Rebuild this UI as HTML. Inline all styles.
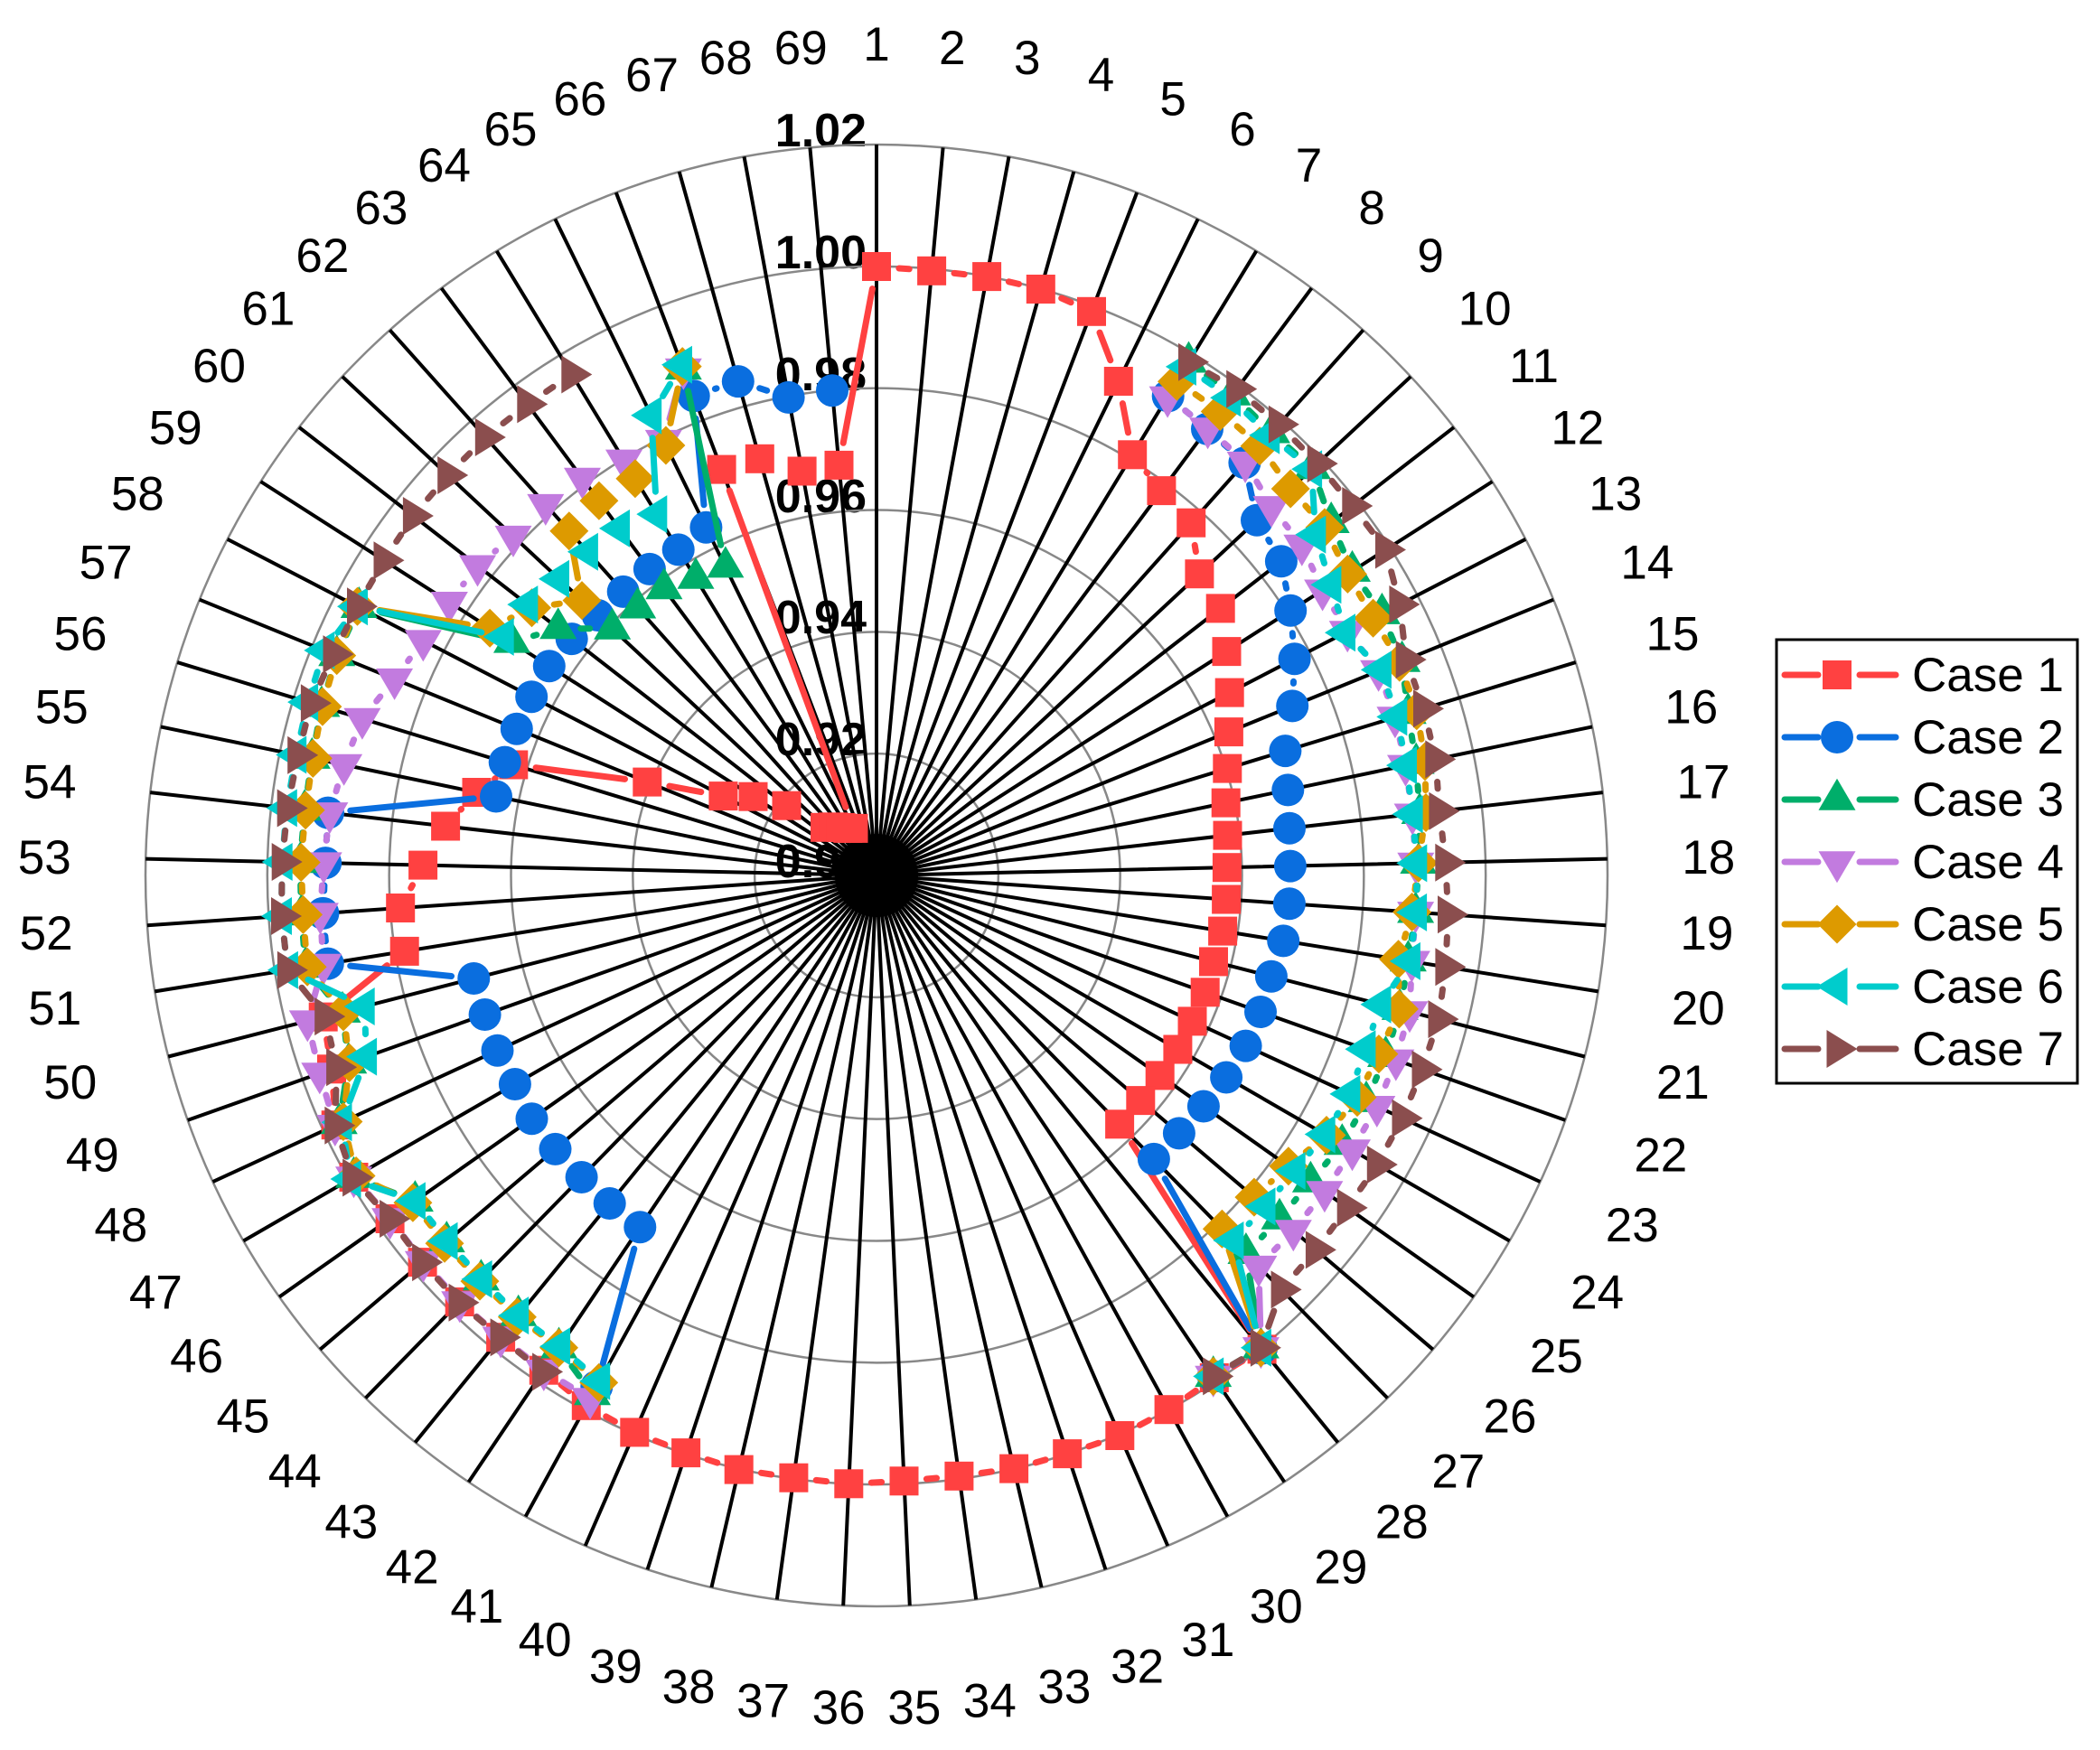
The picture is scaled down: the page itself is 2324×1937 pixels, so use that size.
<!DOCTYPE html>
<html><head><meta charset="utf-8">
<style>
html,body{margin:0;padding:0;background:#fff;}
svg{display:block;}
text{font-family:"Liberation Sans",Arial,sans-serif;}
</style></head>
<body>
<svg width="2324" height="1937" viewBox="0 0 2324 1937" xmlns="http://www.w3.org/2000/svg">
<rect width="2324" height="1937" fill="#fff"/>
<g id="lab" font-size="53" text-anchor="middle" fill="#000"><text>1</text><text>2</text><text>3</text><text>4</text><text>5</text><text>6</text><text>7</text><text>8</text><text>9</text><text>10</text>
<text>11</text><text>12</text><text>13</text><text>14</text><text>15</text><text>16</text><text>17</text><text>18</text><text>19</text><text>20</text>
<text>21</text><text>22</text><text>23</text><text>24</text><text>25</text><text>26</text><text>27</text><text>28</text><text>29</text><text>30</text>
<text>31</text><text>32</text><text>33</text><text>34</text><text>35</text><text>36</text><text>37</text><text>38</text><text>39</text><text>40</text>
<text>41</text><text>42</text><text>43</text><text>44</text><text>45</text><text>46</text><text>47</text><text>48</text><text>49</text><text>50</text>
<text>51</text><text>52</text><text>53</text><text>54</text><text>55</text><text>56</text><text>57</text><text>58</text><text>59</text><text>60</text>
<text>61</text><text>62</text><text>63</text><text>64</text><text>65</text><text>66</text><text>67</text><text>68</text><text>69</text></g>
<g font-size="52" font-weight="bold" text-anchor="end" fill="#000">
<text x="959" y="971">0.90</text>
<text x="959" y="836">0.92</text>
<text x="959" y="701">0.94</text>
<text x="959" y="567">0.96</text>
<text x="959" y="432">0.98</text>
<text x="959" y="297">1.00</text>
<text x="959" y="162">1.02</text>
</g>
<g fill="none" stroke="#888" stroke-width="2.5">
<circle cx="970" cy="969" r="134.83"/>
<circle cx="970" cy="969" r="269.67"/>
<circle cx="970" cy="969" r="404.5"/>
<circle cx="970" cy="969" r="539.33"/>
<circle cx="970" cy="969" r="674.17"/>
<circle cx="970" cy="969" r="809"/>
</g>
<path id="spokes" d="" stroke="#000" stroke-width="4" fill="none"/>
<circle cx="970" cy="969" r="46" fill="#000"/>
<rect x="1966" y="708" width="333" height="491" fill="#fff" stroke="#000" stroke-width="3"/>
<g font-size="53" fill="#000">
<text x="2116" y="765">Case 1</text>
<text x="2116" y="834">Case 2</text>
<text x="2116" y="903">Case 3</text>
<text x="2116" y="972">Case 4</text>
<text x="2116" y="1041">Case 5</text>
<text x="2116" y="1110">Case 6</text>
<text x="2116" y="1179">Case 7</text>
</g>
<g id="data"></g>
</svg>
<script>
(function(){
var N=null;
var S=[
{c:'#FF4141',m:'sq',w:true,d:[674,672,674,674,668,609,545,530,523,489,482,460,440,421,406,395,391,388,388,388,385,386,385,385,384,384,385,676,670,674,676,674,674,671,671,674,673,675,673,672,669,660,659,660,660,659,668,659,640,632,529,528,502,480,452,420,274,191,162,126,78,72,66,61,58,481,479,455,456]},
{c:'#0A6EDF',m:'ci',d:[N,N,N,N,N,N,621,615,612,576,567,544,521,497,473,465,460,458,458,456,451,451,450,447,443,440,439,675,668,N,N,N,N,N,N,N,N,N,N,N,645,469,468,467,467,467,462,462,460,460,615,614,610,611,430,430,430,430,430,427,422,421,422,422,429,568,568,538,539]},
{c:'#00AE6A',m:'up',d:[N,N,N,N,N,N,665,662,657,660,637,625,630,628,615,610,605,600,598,596,598,598,597,595,588,586,585,674,668,N,N,N,N,N,N,N,N,N,N,N,655,630,628,626,625,625,668,655,620,610,640,638,638,637,638,642,645,645,479,446,400,397,395,385,380,600,N,N,N]},
{c:'#C27BDF',m:'dn',d:[N,N,N,N,N,N,620,616,613,598,596,586,587,600,600,598,597,597,598,600,609,610,610,608,607,606,605,674,668,N,N,N,N,N,N,N,N,N,N,N,660,660,659,660,659,659,668,660,654,650,620,617,612,609,602,595,576,565,561,559,550,550,547,538,536,600,N,N,N]},
{c:'#DD9A00',m:'di',d:[N,N,N,N,N,N,640,639,637,627,628,619,619,625,625,620,612,600,594,585,597,590,586,575,558,549,547,674,668,N,N,N,N,N,N,N,N,N,N,N,640,630,630,628,628,628,665,650,619,609,638,636,637,636,637,641,645,647,508,483,446,511,516,514,530,603,N,N,N]},
{c:'#00CCCC',m:'lt',d:[N,N,N,N,N,N,659,658,653,659,615,597,584,603,602,599,597,598,599,598,576,574,577,573,567,565,565,674,668,N,N,N,N,N,N,N,N,N,N,N,638,628,628,625,624,625,672,652,599,585,660,660,658,657,656,658,660,647,490,489,481,480,478,468,567,605,N,N,N]},
{c:'#8B4E4E',m:'rt',d:[N,N,N,N,N,N,665,670,669,668,667,669,652,633,633,632,627,630,634,638,642,641,641,640,638,639,641,674,668,N,N,N,N,N,N,N,N,N,N,N,N,662,659,661,660,659,669,660,634,630,660,660,658,656,654,654,649,647,647,649,649,650,649,649,N,N,N,N,N]}
];
var cx=970,cy=969,st=2*Math.PI/69,n=69,g=25;
function P(i,r){return [cx+r*Math.sin(i*st),cy-r*Math.cos(i*st)];}
function F(v){return v.toFixed(1);}
var labs=document.getElementById('lab').getElementsByTagName('text');
for(var t=0;t<labs.length;t++){var lp=P(t,921);labs[t].setAttribute('x',F(lp[0]));labs[t].setAttribute('y',F(lp[1]+19));}
var sp='';
for(var q=0;q<n;q++){var e=P(q,809);sp+='M970 969L'+F(e[0])+' '+F(e[1]);}
document.getElementById('spokes').setAttribute('d',sp);
function mk(m,x,y,c){
  function poly(p){var s=[];for(var i=0;i<p.length;i++){s.push(F(x+p[i][0])+','+F(y+p[i][1]));}return '<polygon points="'+s.join(' ')+'" fill="'+c+'"/>';}
  if(m==='sq')return '<rect x="'+F(x-16)+'" y="'+F(y-16)+'" width="32" height="32" fill="'+c+'"/>';
  if(m==='ci')return '<circle cx="'+F(x)+'" cy="'+F(y)+'" r="18" fill="'+c+'"/>';
  if(m==='up')return poly([[0,-23.3],[20.5,11.7],[-20.5,11.7]]);
  if(m==='dn')return poly([[0,23.3],[20.5,-11.7],[-20.5,-11.7]]);
  if(m==='lt')return poly([[-22.5,0],[11.5,-21],[11.5,21]]);
  if(m==='rt')return poly([[22.5,0],[-11.5,-21],[-11.5,21]]);
  return poly([[0,-21.5],[21.5,0],[0,21.5],[-21.5,0]]);
}
var h='';
for(var si=0;si<S.length;si++){
  var s=S[si],segs='';
  var lim=s.w?n:n-1;
  for(var i=0;i<lim;i++){
    var j=(i+1)%n,a=s.d[i],b=s.d[j];
    if(a==null||b==null)continue;
    var A=P(i,a),B=P(j,b),dx=B[0]-A[0],dy=B[1]-A[1],L=Math.sqrt(dx*dx+dy*dy);
    if(L<=2*g+0.5)continue;
    var ux=dx/L,uy=dy/L;
    segs+='M'+F(A[0]+ux*g)+' '+F(A[1]+uy*g)+'L'+F(B[0]-ux*g)+' '+F(B[1]-uy*g);
  }
  if(segs)h+='<path d="'+segs+'" stroke="'+s.c+'" stroke-width="7" stroke-linecap="round" fill="none"/>';
  for(var k=0;k<n;k++){if(s.d[k]==null)continue;var p=P(k,s.d[k]);h+=mk(s.m,p[0],p[1],s.c);}
  var ly=747+69*si;
  h+='<path d="M1975 '+ly+'H2012M2058 '+ly+'H2098" stroke="'+s.c+'" stroke-width="7" stroke-linecap="round" fill="none"/>';
  h+=mk(s.m,2033,ly,s.c);
}
document.getElementById('data').innerHTML=h;
})();
</script>
</body></html>
